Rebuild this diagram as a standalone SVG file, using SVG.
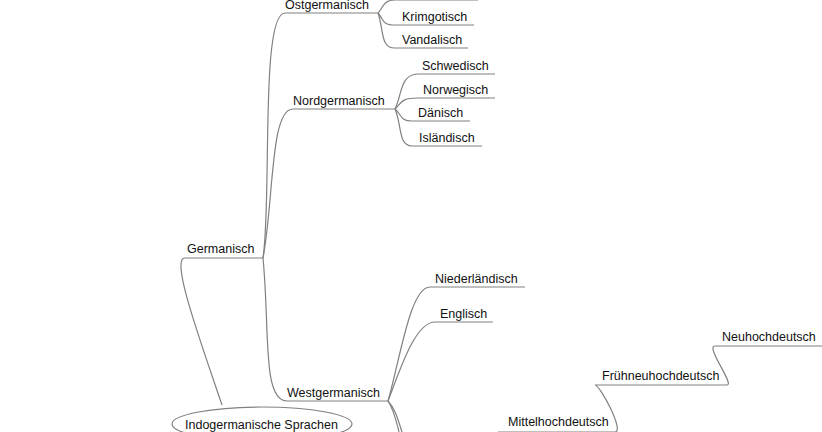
<svg xmlns="http://www.w3.org/2000/svg" width="822" height="432" viewBox="0 0 822 432">
<style>
text{font-family:"Liberation Sans",Arial,sans-serif;font-size:12.5px;fill:#111}
.l{fill:none;stroke:#808080;stroke-width:1.2}
</style>
<rect width="822" height="432" fill="#fff"/>
<g id="connectors">
<path class="l" d="M222,405 C200,340 170,258 185,258 L263,258"/>
<path class="l" d="M263,258 C272,200 260,13 285,13 L378,13"/>
<path class="l" d="M263,258 C274,200 270,109 293,109 L395,109"/>
<path class="l" d="M263,258 C270,330 262,401 287,401 L388,401"/>
<path class="l" d="M378,13 C383,8 383,0 395,0 L478,0"/>
<path class="l" d="M378,13 C384,20 382,25 395,25 L474,25"/>
<path class="l" d="M378,13 C384,30 380,48 395,48 L468,48"/>
<path class="l" d="M395,109 C402,95 400,74 418,74 L495,74"/>
<path class="l" d="M395,109 C402,103 400,98 418,98 L495,98"/>
<path class="l" d="M395,109 C402,115 400,121 412,121 L470,121"/>
<path class="l" d="M395,109 C402,125 398,146 412,146 L482,146"/>
<path class="l" d="M388,401 C400,360 410,287 430,287 L525,287"/>
<path class="l" d="M388,401 C400,370 415,322 435,322 L493,322"/>
<path class="l" d="M388,401 C394,410 396,420 399,432"/>
<path class="l" d="M388,401 C396,410 398,420 402,432"/>
<path class="l" d="M498,432 L615,432 C625,432 600,385 595,385 L727,385 C735,385 705,346 715,346 L822,346"/>
</g>
<g id="indogermanisch"><ellipse cx="262" cy="424" rx="90" ry="17" fill="#fff" stroke="#808080" stroke-width="1.2"/><text x="185" y="429">Indogermanische Sprachen</text></g>
<g id="germanisch"><text x="187" y="253">Germanisch</text></g>
<g id="ostgermanisch"><text x="285" y="9">Ostgermanisch</text></g>
<g id="krimgotisch"><text x="402" y="21">Krimgotisch</text></g>
<g id="vandalisch"><text x="402" y="44">Vandalisch</text></g>
<g id="nordgermanisch"><text x="293" y="105">Nordgermanisch</text></g>
<g id="schwedisch"><text x="422" y="70">Schwedisch</text></g>
<g id="norwegisch"><text x="423" y="94">Norwegisch</text></g>
<g id="daenisch"><text x="418" y="117">Dänisch</text></g>
<g id="islaendisch"><text x="419" y="142">Isländisch</text></g>
<g id="westgermanisch"><text x="287" y="397">Westgermanisch</text></g>
<g id="niederlaendisch"><text x="435" y="283">Niederländisch</text></g>
<g id="englisch"><text x="440" y="318">Englisch</text></g>
<g id="mittelhochdeutsch"><text x="508" y="426">Mittelhochdeutsch</text></g>
<g id="fruehneuhochdeutsch"><text x="602" y="380">Frühneuhochdeutsch</text></g>
<g id="neuhochdeutsch"><text x="722" y="341">Neuhochdeutsch</text></g>
</svg>
